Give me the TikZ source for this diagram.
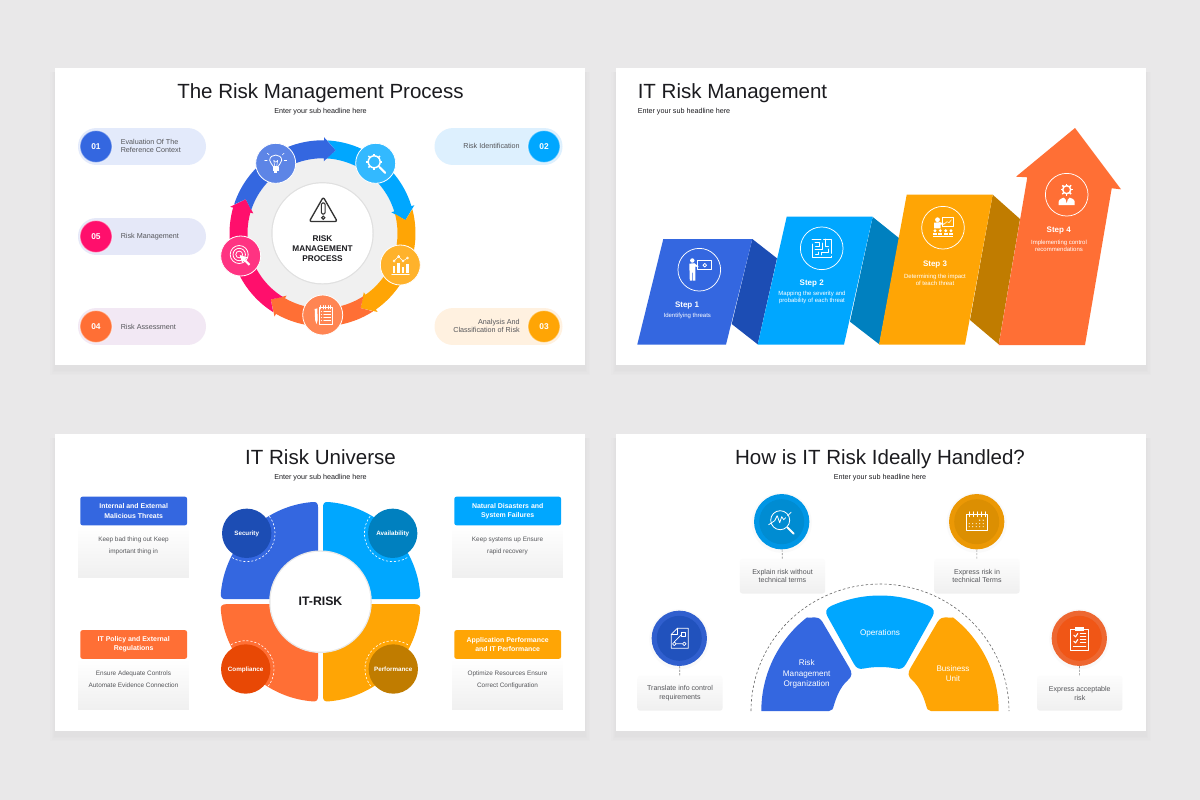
\documentclass[tikz,border=0pt]{standalone}
\usepackage{fontspec}
\setmainfont{Liberation Sans}
\definecolor{cbg}{HTML}{E9E8E9}
\definecolor{cblue}{HTML}{3467E0}
\definecolor{cblued}{HTML}{1C4DB4}
\definecolor{csky}{HTML}{00A7FF}
\definecolor{cskyd}{HTML}{0080BF}
\definecolor{camb}{HTML}{FFA505}
\definecolor{cambd}{HTML}{C07C00}
\definecolor{cora}{HTML}{FF6F35}
\definecolor{corad}{HTML}{E84805}
\definecolor{cpink}{HTML}{FF0F6C}
\definecolor{ctxt}{HTML}{55565A}
\definecolor{ctitle}{HTML}{1B1B1F}
\definecolor{pa}{HTML}{E3EAFB}
\definecolor{pb}{HTML}{E5E8F8}
\definecolor{pc}{HTML}{F2E8F4}
\definecolor{pd}{HTML}{DDF0FE}
\definecolor{pe}{HTML}{FFF1E0}
\newcommand{\fsz}[1]{\fontsize{#1}{#1}\selectfont}
\tikzset{
  x=0.75pt,y=-0.75pt,
  paneltitle/.style={font=\fsz{15.4},text=ctitle,inner sep=0pt,text depth=0pt},
  subhead/.style={font=\fsz{5.4},text=ctitle,inner sep=0pt,text depth=0pt},
  pillbox/.style={rounded corners=13.8pt,minimum width=96pt,minimum height=27.7pt,inner sep=0pt},
  pillnum/.style={circle,minimum size=24pt,inner sep=0pt,font=\bfseries\fsz{6.3},text=white,draw=white,draw opacity=.45,line width=.9pt},
  pilltext/.style={font=\fsz{5.4},text=ctxt,inner sep=0pt,align=left},
  pilltextr/.style={font=\fsz{5.4},text=ctxt,inner sep=0pt,align=right},
  ringdot/.style={circle,minimum size=30pt,inner sep=0pt,draw=white,line width=.6pt},
  ic/.style={draw=white,line width=.6pt,line cap=round,line join=round},
  icf/.style={fill=white},
  stepring/.style={circle,minimum size=32pt,inner sep=0pt,draw=white,line width=.55pt},
  stephead/.style={font=\bfseries\fsz{6},text=white,inner sep=0pt},
  stepdesc/.style={font=\fsz{4.5},text=white,inner sep=0pt,align=center},
  boxhead/.style={minimum width=80pt,minimum height=21.4pt,inner sep=0pt,font=\bfseries\fsz{5.2},text=white,align=center},
  boxbody/.style={minimum width=83pt,inner sep=0pt,top color=white,bottom color=black!6},
  boxtext/.style={font=\fsz{4.8},text=ctxt,align=center,inner sep=0pt},
  quaddot/.style={circle,minimum size=37pt,inner sep=0pt,font=\bfseries\fsz{4.7},text=white,text depth=0pt},
  dashring/.style={draw=white,line width=.45pt,dash pattern=on 1.6pt off 1.4pt},
  capbox/.style={minimum width=64pt,minimum height=26pt,inner sep=0pt,rounded corners=2pt,top color=black!1,bottom color=black!6,font=\fsz{5.3},text=ctxt,align=center},
  iconcirc/.style={circle,minimum size=41.5pt,inner sep=0pt},
  stub/.style={draw=black!45,line width=.5pt,dash pattern=on 1.6pt off 1pt},
  seglabel/.style={font=\fsz{6.1},text=white,inner sep=0pt,align=center},
}
\newcommand{\panel}[4]{%
  \foreach \g in {5,3.5,2,1}{\fill[black,opacity=.006] ({#1-\g},{#2+4}) rectangle ({#3+\g},{#4+\g+5});}
  \fill[white] (#1,#2) rectangle (#3,#4);}
\newcommand{\ringarrow}[3]{%
  \pgfmathsetmacro\aS{#2-6}\pgfmathsetmacro\aW{#3-8}%
  \fill[#1] plot[domain=\aS:\aW,samples=30] ({93*cos(\x)},{93*sin(\x)})
    -- ({96*cos(\aW)},{96*sin(\aW)}) -- ({84*cos(#3)},{84*sin(#3)}) -- ({72*cos(\aW)},{72*sin(\aW)})
    -- plot[domain=\aW:\aS,samples=30] ({75*cos(\x)},{75*sin(\x)})
    -- ({84*cos(#2)},{84*sin(#2)}) -- cycle;}
\newcommand{\quadrant}[1]{%
  \fill[#1] (2.5,2.5) -- (2.5,94.5) .. controls (2.5,98.5) and (4,99.9) .. (7.5,99.7)
    -- plot[domain=4.5:85.5,samples=40] ({100*sin(\x)},{100*cos(\x)})
    .. controls (100,4.5) and (98.5,2.5) .. (94.5,2.5) -- cycle;}
\newcommand{\gearshape}[3]{% x y r
  \foreach \a in {0,45,...,315}{\draw[ic,line width=1.1pt,line cap=butt] ({#1+#3*cos(\a)},{#2+#3*sin(\a)}) -- ({#1+(#3+2.2)*cos(\a)},{#2+(#3+2.2)*sin(\a)});}
  \draw[ic,line width=1.1pt] (#1,#2) circle[radius=#3];}
\begin{document}
\begin{tikzpicture}
\useasboundingbox (0,0) rectangle (1200,800);
\fill[cbg] (0,0) rectangle (1200,800);
\panel{55}{68}{585}{365}
\panel{616}{68}{1146}{365}
\panel{55}{434}{585}{731}
\panel{616}{434}{1146}{731}

%% ---------- Panel 1
\node[paneltitle] (t1) at (320.5,91.5) {The Risk Management Process};
\node[subhead] (s1) at (320.5,111) {Enter your sub headline here};
\node[pillbox,fill=pa] (p1) at (142,146.5) {};
\node[pillbox,fill=pb] (p5) at (142,236.5) {};
\node[pillbox,fill=pc] (p4) at (142,326.5) {};
\node[pillbox,fill=pd] (p2) at (498.5,146.5) {};
\node[pillbox,fill=pe] (p3) at (498.5,326.5) {};
\node[pillnum,fill=cblue] (n1) at (96,146.5) {01};
\node[pillnum,fill=cpink] (n5) at (96,236.5) {05};
\node[pillnum,fill=cora] (n4) at (96,326.5) {04};
\node[pillnum,fill=csky] (n2) at (544,146.5) {02};
\node[pillnum,fill=camb] (n3) at (544,326.5) {03};
\node[pilltext,anchor=west] (l1) at (120.5,146) {Evaluation Of The\\[.6pt]Reference Context};
\node[pilltext,anchor=west] (l5) at (120.5,236.5) {Risk Management};
\node[pilltext,anchor=west] (l4) at (120.5,326.5) {Risk Assessment};
\node[pilltextr,anchor=east] (l2) at (520,146) {Risk Identification};
\node[pilltextr,anchor=east] (l3) at (520,326) {Analysis And\\[.6pt]Classification of Risk};

\begin{scope}[shift={(322.5,233.3)}]
  \fill[black!6] (0,0) circle[radius=75];
  \fill[black!12] (0,0) circle[radius=51.2];
  \ringarrow{csky}{-81}{-9}
  \ringarrow{camb}{-9}{63}
  \ringarrow{cora}{63}{128}
  \ringarrow{cpink}{128}{204}
  \ringarrow{cblue}{204}{279}
\end{scope}
\node[circle,fill=white,minimum size=75pt,inner sep=0pt] (hub1) at (322.5,233.3) {};
\node[font=\bfseries\fsz{6.2},text=ctitle,align=center,inner sep=0pt] (hubt) at (322.5,248.5) {RISK\\[1.1pt]MANAGEMENT\\[1.1pt]PROCESS};
\begin{scope}[shift={(323.3,210)}]
  \draw[draw=black!80,line width=1pt,line join=round,rounded corners=1.6pt] (0,-13) -- (14,11.5) -- (-14,11.5) -- cycle;
  \draw[draw=black!80,line width=.8pt,rounded corners=1pt] (-1.9,-7) rectangle (1.9,4);
  \draw[draw=black!80,line width=.8pt] (0,7.7) circle[radius=1.6];
\end{scope}
\node[ringdot,fill=cblue!80!white] (d1) at (275.7,163.3) {};
\node[ringdot,fill=csky!80!white] (d2) at (375.7,163.3) {};
\node[ringdot,fill=camb!85!white] (d3) at (400.3,265) {};
\node[ringdot,fill=cora!85!white] (d4) at (322.7,315) {};
\node[ringdot,fill=cpink!85!white] (d5) at (240.7,256) {};
% bulb
\begin{scope}[shift={(275.7,163.3)}]
  \draw[ic] (-2.4,3.2) .. controls (-3,0.5) and (-6,0) .. (-6,-3) .. controls (-6,-10) and (6,-10) .. (6,-3) .. controls (6,0) and (3,0.5) .. (2.4,3.2) -- cycle;
  \fill[icf] (-2.8,4) rectangle (2.8,8) ; \fill[icf] (-1.5,8) rectangle (1.5,9.3);
  \draw[ic,line width=.4pt] (-2,-3) -- (-1,3) (2,-3) -- (1,3) (-2,-3) -- (0,-1) -- (2,-3);
  \foreach \a in {180,220,320,0}{\draw[ic,line width=.4pt] ({8.5*cos(\a)},{-3+8.5*sin(\a)}) -- ({11*cos(\a)},{-3+11*sin(\a)});}
\end{scope}
% gear + lens
\begin{scope}[shift={(375.7,163.3)}]
  \gearshape{-1.5}{-1.5}{6}
  \draw[ic,line width=1.6pt] (4,4) -- (9.5,9.5);
\end{scope}
% chart
\begin{scope}[shift={(400.3,265)}]
  \fill[icf] (-7.5,1) rectangle (-5,8); \fill[icf] (-3,-2) rectangle (-.5,8); \fill[icf] (1.5,2) rectangle (4,8); \fill[icf] (6,-1) rectangle (8.5,8);
  \draw[ic] (-8.5,9) -- (9,9);
  \draw[ic,line width=.4pt] (-6.2,-4) -- (-1.7,-8.5) -- (2.7,-4) -- (7.2,-7);
  \foreach \q/\r in {-6.2/-4,-1.7/-8.5,2.7/-4,7.2/-7}{\draw[ic,line width=.4pt] (\q,\r) circle[radius=1.1];}
\end{scope}
% notepad
\begin{scope}[shift={(322.7,315)}]
  \draw[ic] (-3,-7.5) rectangle (9.5,9);
  \foreach \q in {-2,0.5,...,8.5}{\draw[ic,line width=.4pt] (\q,-9.5) -- (\q,-6);}
  \foreach \r in {-3.5,-.5,2.5,5.5}{\fill[icf] (-1.3,\r) circle[radius=.6]; \draw[ic,line width=.5pt] (1,\r) -- (8,\r);}
  \fill[icf] (-8,-6) -- (-5.4,-6.6) -- (-5,5) -- (-6.2,9) -- (-7.6,5) -- cycle;
\end{scope}
% target
\begin{scope}[shift={(240.7,256)}]
  \foreach \rr in {9,6.2,3.4}{\draw[ic] (-1.5,-1.5) circle[radius=\rr];}
  \fill[icf] (-1,-1) -- (7,1.5) -- (4.5,3) -- (9.5,8.2) -- (8,9.6) -- (3,4.6) -- (1.5,7) -- cycle;
\end{scope}

%% ---------- Panel 2
\node[paneltitle,anchor=west] (t2) at (637.5,91.5) {IT Risk Management};
\node[subhead,anchor=west] (s2) at (637.5,111) {Enter your sub headline here};
\fill[cblued] (752.3,239) -- (777,258.3) -- (757.7,344.3) -- (731.7,324) -- cycle;
\fill[cblue] (663.3,239) -- (752.3,239) -- (726,344.5) -- (637.3,344.5) -- cycle;
\fill[cskyd] (872.7,217) -- (899.3,238.3) -- (879.3,344.3) -- (850,321.7) -- cycle;
\fill[csky] (786.7,216.7) -- (872.7,216.7) -- (844,344.5) -- (757.7,344.5) -- cycle;
\fill[cambd] (992.7,194.7) -- (1020,219) -- (998.7,344.3) -- (970,320) -- cycle;
\fill[camb] (906.7,194.7) -- (992.7,194.7) -- (965,344.5) -- (879,344.5) -- cycle;
\fill[cora] (998.7,345) -- (1085,345) -- (1111.7,188.3) -- (1121,189.3) -- (1075,128) -- (1016,176.7) -- (1027.3,177.3) -- cycle;
\node[stepring] (r1) at (699.3,269.7) {};
\node[stepring] (r2) at (821.7,248.3) {};
\node[stepring] (r3) at (943,227.7) {};
\node[stepring] (r4) at (1066.7,194.7) {};
\node[stephead] (h1) at (687,305.5) {Step 1};
\node[stepdesc] (e1) at (687.3,316) {Identifying threats};
\node[stephead] (h2) at (811.7,283.3) {Step 2};
\node[stepdesc] (e2) at (812,297.5) {Mapping the severity and\\[.9pt]probability of each threat};
\node[stephead] (h3) at (935,264.3) {Step 3};
\node[stepdesc] (e3) at (935,279.5) {Determining the impact\\[.9pt]of teach threat};
\node[stephead] (h4) at (1058.7,231) {Step 4};
\node[stepdesc] (e4) at (1059,246) {Implementing control\\[.9pt]recommendations};
% presenter
\begin{scope}[shift={(699.3,269.7)}]
  \fill[icf] (-7,-9.2) circle[radius=2.2];
  \fill[icf] (-10,-6) -- (-5,-6.5) -- (-1,-3.5) -- (-1,-2.5) -- (-4,-3.2) -- (-4,11) -- (-6.5,11) -- (-6.5,3) -- (-7.2,3) -- (-7.2,11) -- (-9.5,11) -- cycle;
  \draw[ic] (-2,-9) rectangle (12,0);
  \draw[ic] (5.5,-4.5) circle[radius=1.8];
\end{scope}
% maze
\begin{scope}[shift={(821.7,248.3)}]
  \draw[ic,line width=1pt] (-9.5,-9) -- (-1,-9) (2,-9) -- (9.5,-9) -- (9.5,5) (9.5,8) -- (9.5,9.5) -- (-9.5,9.5) -- (-9.5,-4) (-9.5,-1) -- (-9.5,-.5)
    (-6.5,-6) -- (-2,-6) -- (-2,-2) -- (-6,-2) (-6.5,1.5) -- (1,1.5) -- (1,-5) (4,-9) -- (4,-2) -- (6.5,-2) (-6,6) -- (-3,6) -- (-3,4) (0,6.5) -- (0,4) -- (6.5,4) -- (6.5,1);
\end{scope}
% teacher + audience
\begin{scope}[shift={(943,227.7)}]
  \draw[ic] (-1,-10) rectangle (10,-1);
  \draw[ic,line width=.4pt] (1,-3.5) -- (4,-6) -- (6,-5) -- (8.5,-8);
  \fill[icf] (-5.5,-8) circle[radius=2.4];
  \fill[icf] (-9,-5) -- (-3,-5.5) -- (1,-4) -- (1,-3) -- (-2.5,-3) -- (-2.5,0.6) -- (-9,0.6) -- cycle;
  \foreach \q in {-8,-2.7,2.7,8}{\fill[icf] (\q,3) circle[radius=1.6]; \fill[icf] (\q-2,5) rectangle (\q+2,7.5);}
  \fill[icf] (-10.2,7.8) rectangle (10.2,9.5);
\end{scope}
% gear person
\begin{scope}[shift={(1066.7,194.7)}]
  \gearshape{0}{-5}{4}
  \fill[icf] (-8,10.5) -- (-8,7) .. controls (-8,4.5) and (-4,3.2) .. (-2.8,3) -- (-1,5) -- (0,9) -- (1,5) -- (2.8,3) .. controls (4,3.2) and (8,4.5) .. (8,7) -- (8,10.5) -- cycle;
\end{scope}

%% ---------- Panel 3
\node[paneltitle] (t3) at (320.5,457.5) {IT Risk Universe};
\node[subhead] (s3) at (320.5,477) {Enter your sub headline here};
\begin{scope}[shift={(320.5,601.7)}]
  \begin{scope}[xscale=-1,yscale=-1]\quadrant{cblue}\end{scope}
  \begin{scope}[yscale=-1]\quadrant{csky}\end{scope}
  \begin{scope}[xscale=-1]\quadrant{cora}\end{scope}
  \quadrant{camb}
  \fill[black!9] (0,0) circle[radius=51.3];
\end{scope}
\node[circle,fill=white,minimum size=75pt,inner sep=0pt,font=\bfseries\fsz{9.2},text=ctitle] (hub3) at (320.5,601.7) {IT-RISK};
\draw[dashring] plot[domain=-37:121,samples=30] ({246.7+28.3*cos(\x)},{533.3+28.3*sin(\x)});
\draw[dashring] plot[domain=59:217,samples=30] ({392.7+28.3*cos(\x)},{533.3+28.3*sin(\x)});
\draw[dashring] plot[domain=-121:37,samples=30] ({245.7+28.3*cos(\x)},{669+28.3*sin(\x)});
\draw[dashring] plot[domain=143:301,samples=30] ({393.3+28.3*cos(\x)},{669+28.3*sin(\x)});
\node[quaddot,fill=cblued] (q1) at (246.7,533.3) {Security};
\node[quaddot,fill=cskyd] (q2) at (392.7,533.3) {Availability};
\node[quaddot,fill=corad] (q3) at (245.7,669) {Compliance};
\node[quaddot,fill=cambd] (q4) at (393.3,669) {Performance};
% boxes
\node[boxbody,minimum height=39pt] (b1) at (133.5,551) {};
\node[boxbody,minimum height=38pt] (b3) at (133.5,684.5) {};
\node[boxbody,minimum height=39pt] (b2) at (507.5,551) {};
\node[boxbody,minimum height=38pt] (b4) at (507.5,684.5) {};
\node[boxtext] (x1) at (133.5,545.7) {Keep bad thing out Keep\\[4.2pt]important thing in};
\node[boxtext] (x3) at (133.5,679.7) {Ensure Adequate Controls\\[4.2pt]Automate Evidence Connection};
\node[boxtext] (x2) at (507.5,545.7) {Keep systems up Ensure\\[4.2pt]rapid recovery};
\node[boxtext] (x4) at (507.5,679.7) {Optimize Resources Ensure\\[4.2pt]Correct Configuration};
\node[boxhead,fill=cblue,rounded corners=1.5pt] (bh1) at (133.7,511) {Internal and External\\[1.7pt]Malicious Threats};
\node[boxhead,fill=cora,rounded corners=1.5pt] (bh3) at (133.7,644.5) {IT Policy and External\\[1.7pt]Regulations};
\node[boxhead,fill=csky,rounded corners=1.5pt] (bh2) at (507.7,511) {Natural Disasters and\\[1.7pt]System Failures};
\node[boxhead,fill=camb,rounded corners=1.5pt] (bh4) at (507.7,644.5) {Application Performance\\[1.7pt]and IT Performance};

%% ---------- Panel 4
\node[paneltitle] (t4) at (880,457.5) {How is IT Risk Ideally Handled?};
\node[subhead] (s4) at (880,477) {Enter your sub headline here};
\draw[draw=black!60,line width=.45pt,dash pattern=on 1.9pt off 1.6pt] plot[domain=180:360,samples=90] ({880+129*cos(\x)},{711+127*sin(\x)});
\fill[cblue] (761.3,711) -- plot[domain=180:232,samples=30] ({880+118.7*cos(\x)},{711+118.7*sin(\x)})
  .. controls (811,619) and (817.5,614) .. (822.5,622)
  -- (849.5,668) .. controls (852.5,673) and (852,676.5) .. (848,680)
  .. controls (840,687) and (836,698) .. (834,705) .. controls (833,709) and (832,711) .. (829,711) -- cycle;
\fill[camb] (998.7,711) -- plot[domain=360:308,samples=30] ({880+118.7*cos(\x)},{711+118.7*sin(\x)})
  .. controls (949,619) and (942.5,614) .. (937.5,622)
  -- (910.5,668) .. controls (907.5,673) and (908,676.5) .. (912,680)
  .. controls (920,687) and (924,698) .. (926,705) .. controls (927,709) and (928,711) .. (931,711) -- cycle;
\fill[csky] (831,606) .. controls (862,592) and (898,592) .. (929,606)
  .. controls (934,608.5) and (935,612) .. (932.5,616.5)
  -- (906,664) .. controls (903.5,668.5) and (900.5,669.5) .. (896,668.5)
  .. controls (886,666.5) and (874,666.5) .. (864,668.5)
  .. controls (859.5,669.5) and (856.5,668.5) .. (854,664)
  -- (827.5,616.5) .. controls (825,612) and (826,608.5) .. (831,606) -- cycle;
\node[seglabel] (g1) at (806.7,674) {Risk\\[1.5pt]Management\\[1.5pt]Organization};
\node[seglabel] (g2) at (880,633.5) {Operations};
\node[seglabel,text=white] (g3) at (953,673.5) {Business\\[1.5pt]Unit};

\node[iconcirc,fill=black!2,minimum size=45pt] (a1) at (781.7,522.7) {};
\node[iconcirc,fill=black!2,minimum size=45pt] (a2) at (679.3,639.3) {};
\node[iconcirc,fill=black!2,minimum size=45pt] (a3) at (976.7,522.7) {};
\node[iconcirc,fill=black!2,minimum size=45pt] (a4) at (1079.3,639.3) {};
\node[iconcirc,fill=csky!90!black] (c1) at (781.7,521.7) {};
\node[iconcirc,fill=cblue!92!black] (c2) at (679.3,638.3) {};
\node[iconcirc,fill=camb!92!black] (c3) at (976.7,521.7) {};
\node[iconcirc,fill=cora!93!black] (c4) at (1079.3,638.3) {};
\fill[cskyd!70!csky] (781.7,521.7) circle[radius=22.5];
\fill[cblued!80!cblue] (679.3,638.3) circle[radius=22.5];
\fill[cambd!55!camb] (976.7,521.7) circle[radius=22.5];
\fill[corad!65!cora] (1079.3,638.3) circle[radius=22.5];
\node[capbox] (k1) at (782.5,576.2) {Explain risk without\\[1pt]technical terms};
\node[capbox] (k2) at (680,693.3) {Translate info control\\[1pt]requirements};
\node[capbox] (k3) at (977,576.2) {Express risk in\\[1pt]technical Terms};
\node[capbox] (k4) at (1079.8,693.3) {Express acceptable\\[1pt]risk};
\draw[stub] (c1) -- (k1);
\draw[stub] (c2) -- (k2);
\draw[stub] (c3) -- (k3);
\draw[stub] (c4) -- (k4);
% chart lens
\begin{scope}[shift={(781.7,521.7)}]
  \draw[ic] (-1.5,-1.5) circle[radius=9.5];
  \draw[ic,line width=.6pt] (-13,3) -- (-7,-1) -- (-4.5,-6) -- (-2,1) -- (0,-5) -- (2,-2) -- (4,-4) (6,-6) -- (9.5,-9.5);
  \draw[ic,line width=1.4pt] (6,6) -- (12,12);
\end{scope}
% doc flow
\begin{scope}[shift={(679.3,638.3)}]
  \draw[ic] (-8,-4) -- (-2,-10) -- (9,-10) -- (9,10) -- (-8,10) -- cycle;
  \draw[ic,line width=.5pt] (-2,-10) -- (-2,-4) -- (-8,-4);
  \draw[ic,line width=.5pt] (2,-5.5) rectangle (6,-2);
  \draw[ic,line width=.5pt] (-5,5.5) circle[radius=1.8] (5,5.5) circle[radius=1.8];
  \draw[ic,line width=.5pt] (-3,5.5) -- (3,5.5) (-5,3.5) -- (2,-3.5);
\end{scope}
% calendar
\begin{scope}[shift={(976.7,521.7)}]
  \draw[ic] (-10.5,-7) rectangle (11,8.5);
  \foreach \q in {-7.5,-3.5,.5,4.5,8.5}{\draw[ic,line width=.6pt] (\q,-10) -- (\q,-5);}
  \foreach \q in {-7.5,-4,-.5,3,6.5}{\foreach \r in {2,5}{\fill[icf] (\q,\r) circle[radius=.55];}}
  \foreach \q in {3,6.5}{\fill[icf] (\q,-1.5) circle[radius=.7];}
\end{scope}
% clipboard
\begin{scope}[shift={(1079.3,638.3)}]
  \draw[ic] (-9,-9) rectangle (9,12);
  \fill[icf] (-4.5,-11) rectangle (4.5,-7.5);
  \foreach \r in {-3,3}{\draw[ic,line width=.8pt] (-5.5,\r) -- (-3.8,{\r+1.6}) -- (-1.5,{\r-1.8}); \draw[ic] (1,{\r-1.5}) -- (6.5,{\r-1.5}) (1,{\r+1}) -- (6.5,{\r+1});}
  \draw[ic] (-6,8) -- (6.5,8);
\end{scope}
\end{tikzpicture}
\end{document}
